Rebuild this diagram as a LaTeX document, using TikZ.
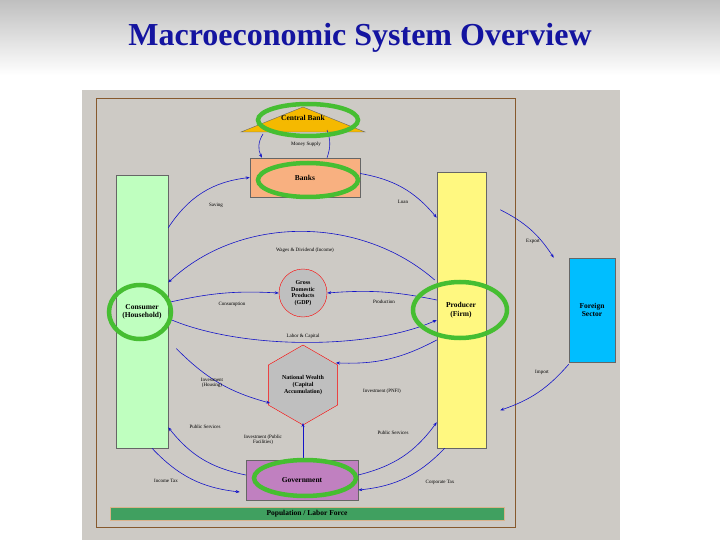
\documentclass[tikz,border=0pt]{standalone}
\usepackage{fontspec}
\setmainfont{Liberation Serif}
\usetikzlibrary{shapes.geometric,calc,arrows.meta}
\definecolor{ttl}{RGB}{20,20,160}
\definecolor{panel}{RGB}{205,202,197}
\definecolor{hl}{RGB}{70,190,50}
\definecolor{ar}{RGB}{20,20,200}
\begin{document}
\begin{tikzpicture}[x=1pt,y=-1pt,
 box/.style={draw=black!60,line width=0.5pt,inner sep=0pt},
 lab/.style={font=\fontsize{5}{5.5}\selectfont,align=center,inner sep=0pt},
 big/.style={font=\bfseries\fontsize{7.5}{8.5}\selectfont,align=center,inner sep=0pt},
 arr/.style={draw=ar,line width=0.6pt,-{Stealth[length=4pt,width=3pt]}},
 hi/.style={draw=hl,line width=4.5pt}]
\useasboundingbox (0,0) rectangle (720,540);
\shade[top color=black!25,bottom color=white] (0,0) rectangle (720,75);
\node[font=\bfseries\fontsize{32}{34}\selectfont,text=ttl] (title) at (360,38) {Macroeconomic System Overview};
\fill[panel] (82,90) rectangle (620,540);
\draw[brown!70!black,line width=0.7pt] (96,98) rectangle (515,527);
% bars
\node[box,fill=green!25,minimum width=52,minimum height=273] (cons) at (142,311.5) {};
\node[box,fill=yellow!50,minimum width=49,minimum height=276] (prod) at (461.5,310) {};
\node[box,fill={rgb,255:red,0;green,190;blue,255},minimum width=46,minimum height=104] (for) at (592,310) {};
\node[big] (fort) at (592,310) {Foreign\\Sector};
\node[big] (const) at (142,312) {Consumer\\(Household)};
\node[big] (prodt) at (461,310) {Producer\\(Firm)};
% central bank
\draw[black!60,fill={rgb,255:red,245;green,185;blue,0}] (241,132) -- (303,107) -- (365,132) -- cycle;
\coordinate (cb) at (303,132);
\node[big] (cbt) at (303,118) {Central Bank};
\node[box,fill={rgb,255:red,248;green,176;blue,128},minimum width=110,minimum height=39] (banks) at (305,177.5) {};
\node[big] (bankst) at (305,178) {Banks};
\node[circle,draw=red,fill=black!25,minimum size=48,inner sep=0pt] (gdp) at (303,293) {};
\node[big,font=\fontsize{6}{6.5}\selectfont\bfseries] (gdpt) at (303,293) {Gross\\Domestic\\Products\\(GDP)};
\node[regular polygon,regular polygon sides=6,rotate=30,draw=red,fill=black!25,minimum size=80,inner sep=0pt] (nw) at (303,385) {};
\coordinate (nwb) at (303,423);
\coordinate (govtop) at (303,460);
\node[big,font=\fontsize{6}{6.8}\selectfont\bfseries] (nwt) at (303,385) {National Wealth\\(Capital\\Accumulation)};
\node[box,fill={rgb,255:red,192;green,128;blue,192},minimum width=112,minimum height=40] (gov) at (302,480) {};
\node[big] (govt) at (302,480) {Government};
\node[draw=brown!60,fill={rgb,255:red,64;green,160;blue,96},minimum width=394,minimum height=13,inner sep=0pt] (pop) at (307,513.5) {};
\node[big] (popt) at (307,514) {Population / Labor Force};
% connectors
\draw[arr] ($(cb)+(-40,2)$) to[bend right=30] ($(banks.north)+(-43,0)$);
\draw[draw=ar,line width=0.6pt] ($(banks.north)+(22,0)$) to[bend right=20] ($(cb)+(24,-2)$);
\node[lab] (ms) at (306,144) {Money Supply};
\draw[arr] ($(cons.north east)+(0,53)$) to[bend left=25] (banks.west);
\node[lab] (sav) at (216,205) {Saving};
\draw[arr] ($(banks.east)+(0,-4)$) to[bend left=20] ($(prod.north west)+(0,46)$);
\node[lab] (loan) at (403,202) {Loan};
\draw[arr] ($(prod.north east)+(14,38)$) to[bend left=15] ($(for.north west)+(-15,0)$);
\node[lab] (exp) at (533,241) {Export};
\draw[arr] ($(for.south west)+(0,2)$) to[bend left=15] ($(prod.south east)+(14,-38)$);
\node[lab] (imp) at (542,372) {Import};
\draw[arr] ($(prod.west)+(-2,-30)$) .. controls (360,215) and (240,215) .. ($(cons.east)+(0,-29)$);
\node[lab] (wag) at (305,250) {Wages \& Dividend (Income)};
\draw[arr] ($(cons.east)+(0,-9)$) to[bend left=8] (gdp.west);
\node[lab] (con) at (232,304) {Consumption};
\draw[arr] ($(prod.west)+(0,-10)$) to[bend right=8] (gdp.east);
\node[lab] (pro) at (384,302) {Production};
\draw[arr] ($(cons.east)+(0,7)$) .. controls (240,350) and (370,350) .. ($(prod.west)+(0,10)$);
\node[lab] (lc) at (303,336) {Labor \& Capital};
\draw[arr] ($(cons.east)+(8,37)$) to[bend right=15] ($(nw.west)+(2,-2)$);
\node[lab] (ih) at (212,383) {Investment\\(Housing)};
\draw[arr] ($(prod.west)+(0,30)$) to[bend left=15] ($(nw.east)+(-2,-2)$);
\node[lab] (ip) at (382,391) {Investment (PNFI)};
\draw[arr] ($(gov.west)+(0,-5)$) to[bend left=20] ($(cons.south east)+(0,-21)$);
\node[lab] (psl) at (205,427) {Public Services};
\draw[arr] ($(cons.south)+(10,0)$) to[bend right=20] ($(gov.west)+(-6,12)$);
\node[lab] (it) at (166,481) {Income Tax};
\draw[arr] (govtop) -- (nwb);
\node[lab] (ipf) at (263,440) {Investment (Public\\Facilities)};
\draw[arr] ($(gov.east)+(0,-5)$) to[bend right=20] ($(prod.south west)+(0,-26)$);
\node[lab] (psr) at (393,433) {Public Services};
\draw[arr] ($(prod.south west)+(8,0)$) to[bend left=20] ($(gov.east)+(0,10)$);
\node[lab] (ct) at (440,482) {Corporate Tax};
% highlights
\draw[hi] (308,120) ellipse (50 and 16);
\draw[hi] (308,180) ellipse (50 and 17);
\draw[hi] (140,312) ellipse (31 and 27);
\draw[hi] (460,310) ellipse (47 and 28);
\draw[hi] (305,478) ellipse (51 and 18);
\end{tikzpicture}
\end{document}
